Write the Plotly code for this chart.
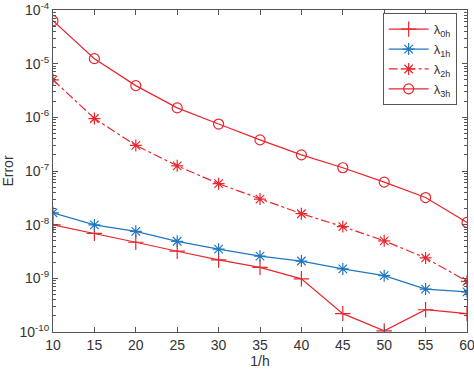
import plotly.graph_objects as go

x_vals = [10, 15, 20, 25, 30, 35, 40, 45, 50, 55, 60]
lam0h = [9.9e-9, 6.9e-9, 4.7e-9, 3.2e-9, 2.2e-9, 1.6e-9, 9.8e-10, 2.2e-10, 1.05e-10, 2.6e-10, 2.2e-10]
lam1h = [1.66e-8, 9.9e-9, 7.5e-9, 4.9e-9, 3.5e-9, 2.6e-9, 2.1e-9, 1.5e-9, 1.12e-9, 6.3e-10, 5.6e-10]
lam2h = [5.0e-6, 9.5e-7, 3.0e-7, 1.25e-7, 5.8e-8, 3.0e-8, 1.6e-8, 9.2e-9, 5.0e-9, 2.4e-9, 8.8e-10]
lam3h = [6.3e-5, 1.24e-5, 3.9e-6, 1.5e-6, 7.5e-7, 3.8e-7, 2.0e-7, 1.15e-7, 6.2e-8, 3.2e-8, 1.1e-8]

names = ["λ<sub>0h</sub>", "λ<sub>1h</sub>", "λ<sub>2h</sub>", "λ<sub>3h</sub>"]
x_ticks = [10, 15, 20, 25, 30, 35, 40, 45, 50, 55, 60]
y_exps = [-10, -9, -8, -7, -6, -5, -4]

RED = "#E8262E"
BLUE = "#1F77C0"
FONT = "Liberation Sans, Arial"

fig = go.Figure()
fig.add_trace(go.Scatter(x=x_vals, y=lam0h, name=names[0], mode="lines+markers",
                         line=dict(color=RED, width=1.2),
                         marker=dict(symbol="cross-thin-open", size=11,
                                     line=dict(color=RED, width=1.2))))
fig.add_trace(go.Scatter(x=x_vals, y=lam1h, name=names[1], mode="lines+markers",
                         line=dict(color=BLUE, width=1.2),
                         marker=dict(symbol="asterisk-open", size=10,
                                     line=dict(color=BLUE, width=1.2))))
fig.add_trace(go.Scatter(x=x_vals, y=lam2h, name=names[2], mode="lines+markers",
                         line=dict(color=RED, width=1.2, dash="dashdot"),
                         marker=dict(symbol="asterisk-open", size=10,
                                     line=dict(color=RED, width=1.2))))
fig.add_trace(go.Scatter(x=x_vals, y=lam3h, name=names[3], mode="lines+markers",
                         line=dict(color=RED, width=1.2),
                         marker=dict(symbol="circle-open", size=10,
                                     line=dict(color=RED, width=1.2))))

axis_common = dict(showline=True, linecolor="#555555", linewidth=1, mirror="ticks",
                   ticks="inside", ticklen=5, tickcolor="#555555",
                   showgrid=False, zeroline=False, automargin=False,
                   ticklabeloverflow="allow",
                   tickfont=dict(family=FONT, size=14, color="#333333"))

fig.update_xaxes(range=[10, 60], tickvals=x_ticks, ticktext=[str(v) for v in x_ticks],
                 title=dict(text="1/h", font=dict(family=FONT, size=14, color="#333333"),
                            standoff=2),
                 **axis_common)
fig.update_yaxes(type="log", range=[-10, -4],
                 tickvals=[10.0 ** e for e in y_exps],
                 ticktext=["10<sup>%d</sup>" % e for e in y_exps],
                 minor=dict(ticks="inside", ticklen=3, tickcolor="#555555", dtick="D1", showgrid=False),
                 title=dict(text="Error", font=dict(family=FONT, size=14, color="#333333"),
                            standoff=4),
                 **axis_common)

fig.update_layout(
    width=474, height=371,
    margin=dict(l=53, r=7, t=10, b=39),
    plot_bgcolor="white", paper_bgcolor="white",
    font=dict(family=FONT, size=13, color="#333333"),
    legend=dict(x=0.975, y=0.99, xanchor="right", yanchor="top",
                bgcolor="white", bordercolor="#555555", borderwidth=1,
                font=dict(size=13), tracegroupgap=0, itemwidth=40),
    showlegend=True,
)

fig.write_html("out.html", config={"displayModeBar": False},
               post_script="document.body.style.margin='0';document.body.style.overflow='hidden';")
